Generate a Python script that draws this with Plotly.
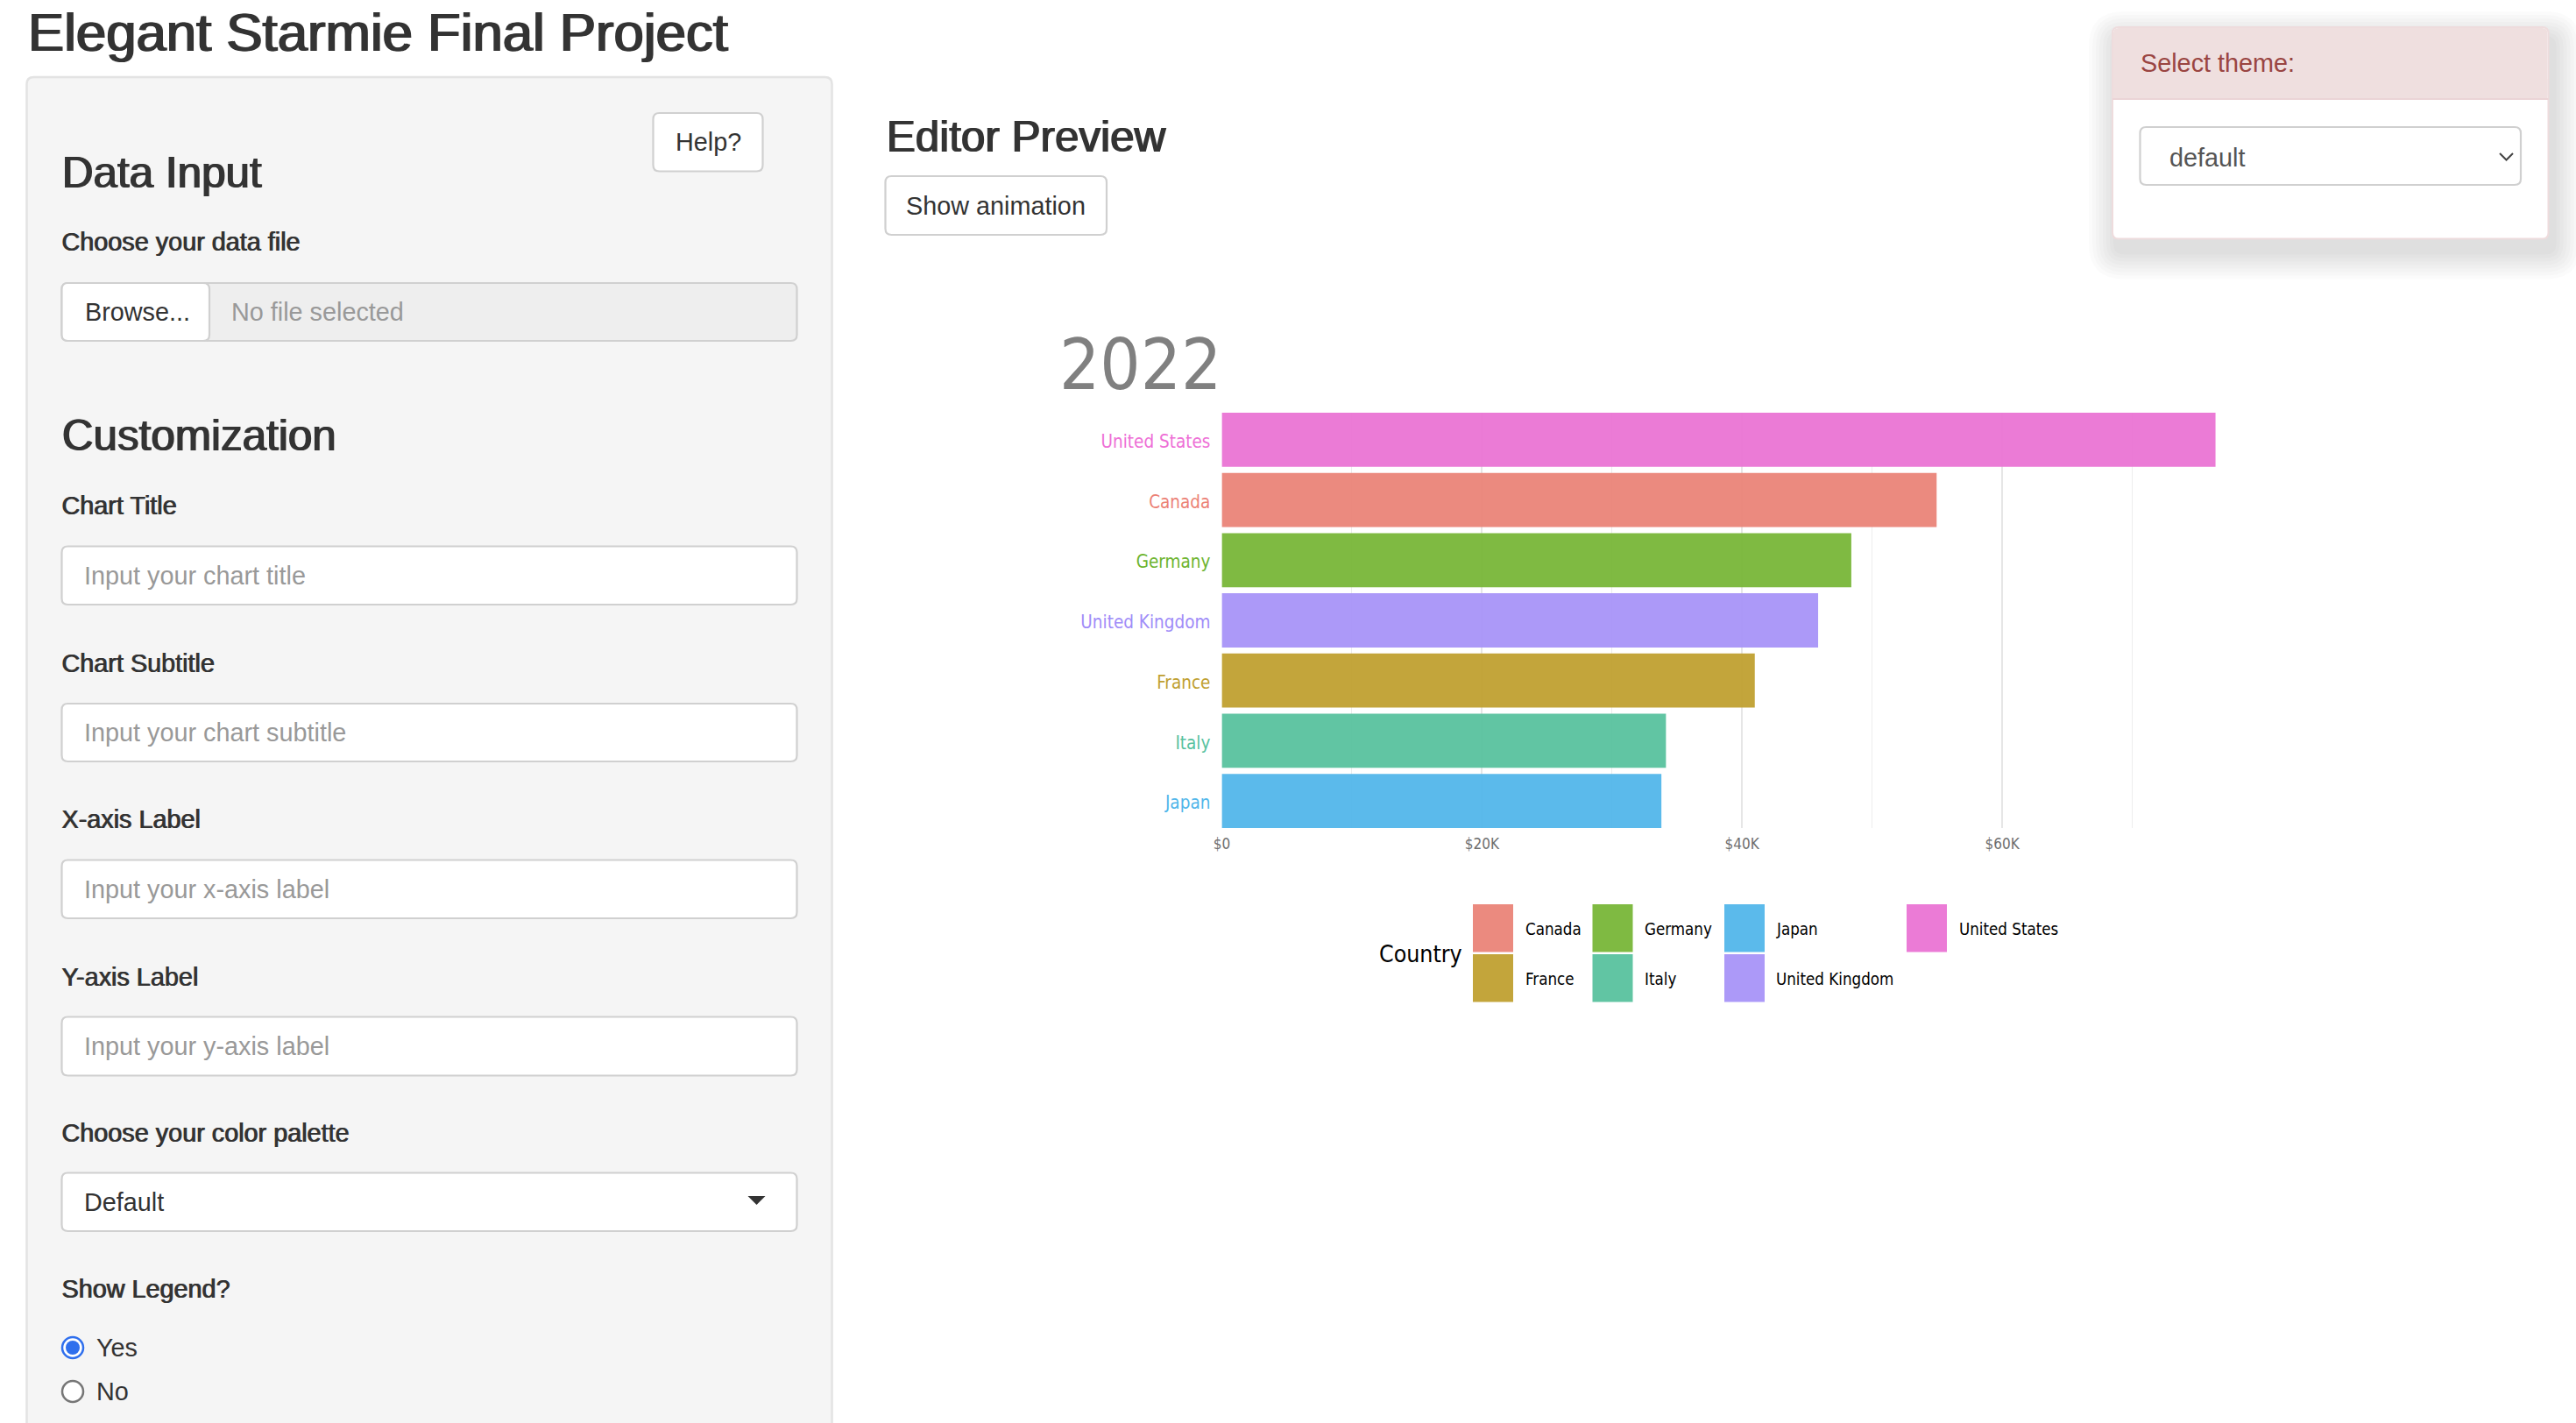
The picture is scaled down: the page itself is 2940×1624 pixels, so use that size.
import plotly.graph_objects as go

W = 2940
H = 1624

countries = ['United States', 'Canada', 'Germany', 'United Kingdom', 'France', 'Italy', 'Japan']
gdp = [76400, 54960, 48400, 45850, 40980, 34150, 33800]
bar_colors = ['rgba(234,116,212,0.95)', 'rgba(234,132,120,0.95)', 'rgba(120,182,56,0.95)',
              'rgba(168,148,248,0.95)', 'rgba(192,160,48,0.95)', 'rgba(88,194,158,0.95)',
              'rgba(82,182,234,0.95)']
label_colors = ['#EE6FD6', '#EC8276', '#6DB42F', '#A08CF8', '#C0A030', '#58C2A0', '#4FB6EA']
tick_vals = [0, 20000, 40000, 60000]
tick_text = ['$0', '$20K', '$40K', '$60K']
minor_vals = [10000, 30000, 50000, 70000]
legend_title = 'Country'
legend_names = ['Canada', 'France', 'Germany', 'Italy', 'Japan', 'United Kingdom', 'United States']

UI = 'Liberation Sans'
CHART = 'DejaVu Sans Condensed'
shapes = []
notes = []


def px(x):
    return x / W


def py(y):
    return 1 - y / H


def rect(x0, y0, x1, y1, fill='white', line='#D0D0D0', width=2.2, r=7):
    d = (f'M {px(x0 + r)} {py(y0)} L {px(x1 - r)} {py(y0)} Q {px(x1)} {py(y0)} {px(x1)} {py(y0 + r)} '
         f'L {px(x1)} {py(y1 - r)} Q {px(x1)} {py(y1)} {px(x1 - r)} {py(y1)} '
         f'L {px(x0 + r)} {py(y1)} Q {px(x0)} {py(y1)} {px(x0)} {py(y1 - r)} '
         f'L {px(x0)} {py(y0 + r)} Q {px(x0)} {py(y0)} {px(x0 + r)} {py(y0)} Z')
    shapes.append(dict(type='path', path=d, xref='paper', yref='paper', fillcolor=fill,
                       line=dict(color=line, width=width), layer='below'))


def text(x, y, s, size=28.8, color='#333333', anchor='left', family=UI, heavy=False):
    font = dict(family=family, size=size, color=color)
    if heavy:
        font['shadow'] = f'{size / 30:.2f}px 0 0 {color}'
    notes.append(dict(x=px(x), y=py(y), text=s, xref='paper', yref='paper', showarrow=False,
                      xanchor=anchor, yanchor='middle', font=font, borderpad=0, borderwidth=0))


def field(label, label_y, top, bottom, hint, color='#999999'):
    text(70, label_y, label, heavy=True)
    rect(70.5, top, 909.5, bottom)
    text(96, (top + bottom) / 2, hint, color=color)


def circle(cx, cy, r, fill, line, width):
    shapes.append(dict(type='circle', xref='paper', yref='paper', x0=px(cx - r), x1=px(cx + r),
                       y0=py(cy + r), y1=py(cy - r), fillcolor=fill,
                       line=dict(color=line, width=width), layer='below'))


# page header
text(31, 36, 'Elegant Starmie Final Project', size=61.7, heavy=True)

# sidebar
rect(30.5, 88, 949.5, 1660, fill='#F5F5F5', line='#E3E3E3', width=2.5, r=8)
rect(745.5, 129, 870.5, 195.5)
text(808, 162, 'Help?', anchor='center')
text(70, 196, 'Data Input', size=49.4, heavy=True)
text(70, 276, 'Choose your data file', heavy=True)
rect(70.5, 323, 909.5, 389, fill='#EEEEEE')
rect(70.5, 323, 239, 389)
text(97, 356, 'Browse...')
text(264, 356, 'No file selected', color='#999999')
text(70, 497, 'Customization', size=49.4, heavy=True)
field('Chart Title', 577, 623.5, 690, 'Input your chart title')
field('Chart Subtitle', 757, 803, 869, 'Input your chart subtitle')
field('X-axis Label', 935, 981.5, 1048, 'Input your x-axis label')
field('Y-axis Label', 1115, 1160.5, 1227.5, 'Input your y-axis label')
field('Choose your color palette', 1293, 1338.5, 1405, 'Default', color='#333333')
shapes.append(dict(type='path', xref='paper', yref='paper', fillcolor='#333333', line=dict(width=0),
                   path=f'M {px(853.5)} {py(1365)} L {px(873.5)} {py(1365)} L {px(863.5)} {py(1375)} Z'))
text(70, 1471, 'Show Legend?', heavy=True)
circle(83, 1538, 12, 'white', '#2F6FED', 2.5)
circle(83, 1538, 8, '#2F6FED', '#2F6FED', 0)
text(110, 1538, 'Yes')
circle(83, 1588, 12, 'white', '#767676', 2.5)
text(110, 1588, 'No')

# preview header
text(1010.5, 155, 'Editor Preview', size=49.4, heavy=True)
rect(1010.5, 201, 1263, 268)
text(1136.7, 235, 'Show animation', anchor='center')

# theme card, soft shadow first
for grow in range(32, 0, -4):
    rect(2411 + 5 - grow, 31 + 14 - grow, 2908.5 + 5 + grow, 272.5 + 14 + grow,
         fill='rgba(0,0,0,0.014)', line='rgba(0,0,0,0)', width=0, r=8 + grow)
rect(2411, 31, 2908.5, 272.5, fill='white', line='#EEDCDD', width=2, r=7)
rect(2412, 32, 2907.5, 113, fill='#EFDFDF', line='rgba(0,0,0,0)', width=0, r=6)
shapes.append(dict(type='rect', xref='paper', yref='paper', x0=px(2412), x1=px(2907.5), y0=py(113),
                   y1=py(90), fillcolor='#EFDFDF', line=dict(width=0), layer='below'))
shapes.append(dict(type='line', xref='paper', yref='paper', x0=px(2411), x1=px(2908.5), y0=py(113),
                   y1=py(113), line=dict(color='#EBD4D6', width=2), layer='below'))
text(2442.5, 72, 'Select theme:', color='#9A4542')
rect(2442.5, 145, 2877, 211)
text(2476, 179.5, 'default', color='#555555')
shapes.append(dict(type='path', xref='paper', yref='paper', line=dict(color='#444444', width=2),
                   path=f'M {px(2853)} {py(175)} L {px(2860.5)} {py(182.5)} L {px(2868)} {py(175)}'))

# chart year label
text(1394, 416, '2022', size=81, color='#808080', anchor='right', family=CHART)

# hand-built ggplot style legend
swatch_x = [1681, 1681, 1817.5, 1817.5, 1968, 1968, 2176]
swatch_y = [1032, 1089, 1032, 1089, 1032, 1089, 1032]
name_x = [1740.5, 1740.5, 1876.5, 1876.5, 2026.5, 2026.5, 2235.5]
legend_colors = [bar_colors[countries.index(n)] for n in legend_names]
text(1574, 1088, legend_title, size=26.5, color='black', family=CHART)
for i, name in enumerate(legend_names):
    shapes.append(dict(type='rect', xref='paper', yref='paper', x0=px(swatch_x[i]), x1=px(swatch_x[i] + 46),
                       y0=py(swatch_y[i] + 54.5), y1=py(swatch_y[i]), fillcolor=legend_colors[i],
                       line=dict(width=0), layer='below'))
    text(name_x[i], swatch_y[i] + 28, name, size=18.6, color='black', family=CHART)

coloured_labels = [f'<span style="color:{c}">{n}</span>' for n, c in zip(countries, label_colors)]

fig = go.Figure(go.Bar(x=gdp, y=countries, orientation='h', marker=dict(color=bar_colors, line=dict(width=0)),
                       width=0.9, hoverinfo='skip'))
fig.update_layout(
    width=W, height=H, margin=dict(l=0, r=0, t=0, b=0, pad=0), autosize=False,
    paper_bgcolor='white', plot_bgcolor='white', showlegend=False,
    shapes=shapes, annotations=notes,
    xaxis=dict(domain=[px(1394.4), px(1394.4 + 14.845 * 80)], range=[0, 80000], zeroline=False,
               automargin=False, tickmode='array', tickvals=tick_vals, ticktext=tick_text,
               tickfont=dict(family=CHART, size=17, color='#6E6E6E'), ticks='', showline=False,
               gridcolor='#E6E6E6', gridwidth=1.6, ticklabelstandoff=6,
               minor=dict(tickmode='array', tickvals=minor_vals, showgrid=True,
                          gridcolor='#EDEDED', gridwidth=1.2, ticks='')),
    yaxis=dict(domain=[py(945), py(471)], range=[6.45, -0.45], type='category', automargin=False,
               tickmode='array', tickvals=countries, ticktext=coloured_labels,
               tickfont=dict(family=CHART, size=20.5), ticks='', showgrid=False, zeroline=False,
               ticklabelstandoff=12, ticklabelshift=-2, showline=False),
)
fig.write_html('out.html', config=dict(displayModeBar=False),
               post_script="document.body.style.margin='0';document.body.style.overflow='hidden';")
